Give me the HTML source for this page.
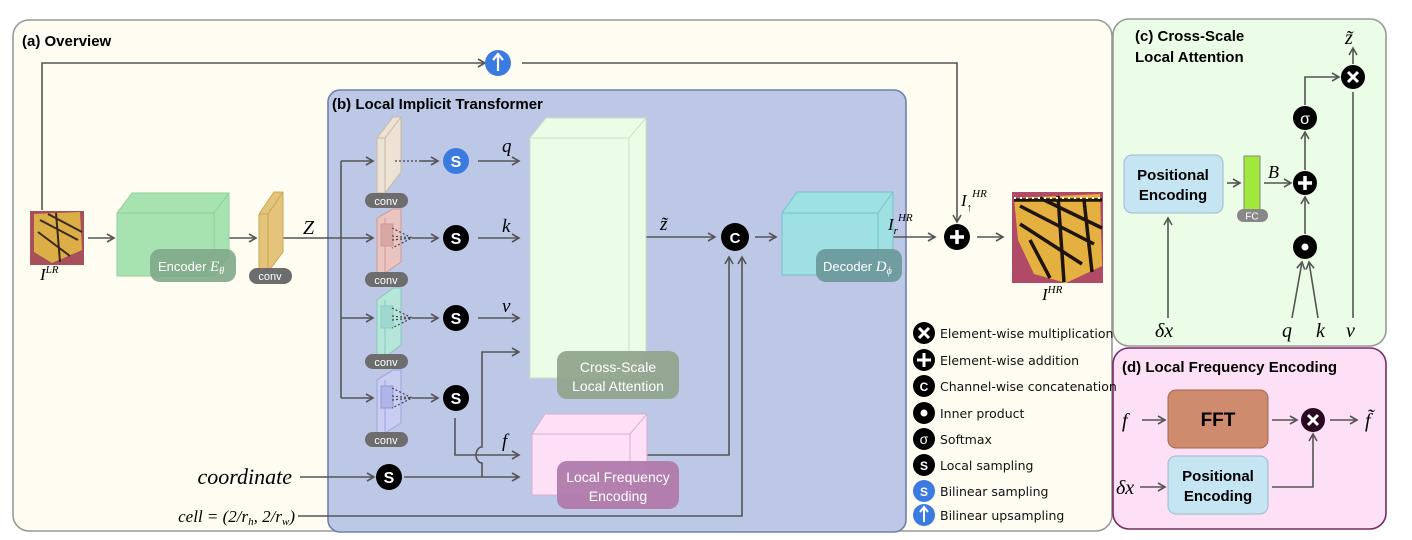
<!DOCTYPE html>
<html><head><meta charset="utf-8"><style>
html,body{margin:0;padding:0;background:#fff;}
svg{display:block;}
.t{font-family:"Liberation Sans",sans-serif;}
.m{font-family:"Liberation Serif",serif;font-style:italic;}
.lg{font-family:"DejaVu Sans",sans-serif;font-size:12.5px;fill:#111;}
</style></head><body>
<svg width="1412" height="540" viewBox="0 0 1412 540" xmlns="http://www.w3.org/2000/svg">
<defs>
<marker id="a" markerWidth="10" markerHeight="10" refX="8" refY="5" orient="auto" markerUnits="userSpaceOnUse"><path d="M1,1 L8,5 L1,9" fill="none" stroke="#555" stroke-width="1.6"/></marker>
</defs>
<g stroke="#555" stroke-width="1.6" fill="none">
<rect x="13" y="20" width="1099" height="511" rx="16" fill="#fffdf1" stroke="#999"/>
<rect x="328" y="90" width="578" height="442" rx="12" fill="#bcc8e6" stroke="#6f80b0"/>
<rect x="1113" y="19" width="273" height="327" rx="16" fill="#ebfde6" stroke="#999"/>
<rect x="1113" y="348" width="273" height="181" rx="16" fill="#fde0f5" stroke="#7a2a60"/>
</g>
<text x="22" y="46" class="t" font-size="15" font-weight="bold">(a) Overview</text>
<text x="332" y="109" class="t" font-size="15" font-weight="bold">(b) Local Implicit Transformer</text>
<text x="1135" y="41" class="t" font-size="15" font-weight="bold">(c) Cross-Scale</text>
<text x="1135" y="62" class="t" font-size="15" font-weight="bold">Local Attention</text>
<text x="1122" y="372" class="t" font-size="15" font-weight="bold">(d) Local Frequency Encoding</text>

<!-- input image -->
<rect x="30" y="211" width="54" height="54" fill="#a8505a"/>
<path d="M34,214 L80,212 L82,250 L52,263 L34,252Z" fill="#dcae48"/>
<g stroke="#3a2a1a" stroke-width="2"><path d="M40,220 L78,240 M38,232 L70,256 M48,214 L82,232 M56,213 L60,262"/></g>
<text x="40" y="280" class="m" font-size="17">I<tspan font-size="11" dy="-7">LR</tspan></text>

<g stroke="#555" stroke-width="1.6" fill="none">
<path d="M42,210 V63 H485" marker-end="url(#a)"/>
<path d="M522,63 H957 V222" marker-end="url(#a)"/>
<path d="M88,238 H114" marker-end="url(#a)"/>
<path d="M220,238 H256" marker-end="url(#a)"/>
<path d="M276,238 H373" marker-end="url(#a)"/>
<path d="M341,161 V398"/>
<path d="M341,161 H373" marker-end="url(#a)"/>
<path d="M341,318 H373" marker-end="url(#a)"/>
<path d="M341,398 H373" marker-end="url(#a)"/>
</g>
<path d="M117,213 L132,193 L229,193 L229,256 L214,276 L117,276Z" fill="#a6e3b0" stroke="#8fcf98"/>
<path d="M117,213 H214 V276 M214,213 L229,193" fill="none" stroke="#8fcf98"/>
<rect x="150" y="249" width="86" height="33" rx="10" fill="#7fa88a" opacity="0.9"/>
<text x="158" y="271" class="t" font-size="13" fill="#fff">Encoder <tspan class="m" font-size="15">E<tspan font-size="10" dy="3">θ</tspan></tspan></text>
<path d="M259,214 L274,192 L283,192 L283,252 L268,272 L259,272Z" fill="#e3c47a" stroke="#c9a650"/>
<path d="M268,214 V272 M259,214 H268 L283,192" fill="none" stroke="#c9a650"/>
<rect x="249" y="268" width="43" height="16" rx="8" fill="#6d6d6d"/>
<text x="270" y="280" class="t" font-size="11" fill="#fff" text-anchor="middle">conv</text>
<text x="303" y="234" class="m" font-size="20">Z</text>

<g stroke-width="1">
<path d="M377,138 L393,117 L401,117 L401,172 L385,193 L377,193Z" fill="#ece3d6" stroke="#c8b8a0"/>
<path d="M377,138 H385 L401,117 M385,138 V193" fill="none" stroke="#c8b8a0"/>
<path d="M377,218 L393,209 L401,209 L401,262 L385,273 L377,273Z" fill="#e9c4c0" stroke="#d09a94"/>
<path d="M385,218 V273" stroke="#d09a94"/>
<rect x="381" y="224" width="12" height="22" fill="#d8a8a4" stroke="#c99"/>
<path d="M377,300 L393,288 L401,288 L401,345 L385,357 L377,357Z" fill="#b6e6da" stroke="#88c8b8"/>
<path d="M385,300 V357" stroke="#88c8b8"/>
<rect x="381" y="306" width="12" height="22" fill="#9fd8cc" stroke="#8cc"/>
<path d="M377,380 L393,370 L401,370 L401,423 L385,433 L377,433Z" fill="#c9cdf2" stroke="#a0a4dc"/>
<path d="M385,380 V433" stroke="#a0a4dc"/>
<rect x="381" y="386" width="12" height="22" fill="#b0b4ea" stroke="#99c"/>
</g>
<g stroke="#444" stroke-width="1.2" stroke-dasharray="2,2" fill="none">
<path d="M395,161 H430"/>
<path d="M392,228 L412,238 L392,248 M392,236 L412,238 M392,240 L412,238"/>
<path d="M392,308 L412,318 L392,328 M392,316 L412,318 M392,320 L412,318"/>
<path d="M392,388 L412,398 L392,408 M392,396 L412,398 M392,400 L412,398"/>
</g>
<g stroke="#555" stroke-width="1.6" fill="none">
<path d="M420,161 H438" marker-end="url(#a)"/>
<path d="M412,238 H438" marker-end="url(#a)"/>
<path d="M412,318 H438" marker-end="url(#a)"/>
<path d="M412,398 H438" marker-end="url(#a)"/>
<path d="M478,161 H519" marker-end="url(#a)"/>
<path d="M478,238 H519" marker-end="url(#a)"/>
<path d="M478,318 H519" marker-end="url(#a)"/>
<path d="M455,418 V455 H519" marker-end="url(#a)"/>
<path d="M300,477 H374" marker-end="url(#a)"/>
<path d="M404,477 H519" marker-end="url(#a)"/>
<path d="M482,477 V463 A6,8 0 0 1 482,447 V352 H519" marker-end="url(#a)"/>
<path d="M298,516 H742 V257" marker-end="url(#a)"/>
<path d="M630,455 H729 V257" marker-end="url(#a)"/>
<path d="M639,237 H715" marker-end="url(#a)"/>
<path d="M755,237 H776" marker-end="url(#a)"/>
<path d="M883,237 H935" marker-end="url(#a)"/>
<path d="M977,237 H1003" marker-end="url(#a)"/>
</g>
<g><rect x="365" y="193" width="43" height="15" rx="7.5" fill="#6d6d6d"/><rect x="365" y="272" width="43" height="15" rx="7.5" fill="#6d6d6d"/><rect x="365" y="354" width="43" height="15" rx="7.5" fill="#6d6d6d"/><rect x="365" y="432" width="43" height="15" rx="7.5" fill="#6d6d6d"/></g>
<g class="t" font-size="11" fill="#fff" text-anchor="middle"><text x="386" y="205">conv</text><text x="386" y="284">conv</text><text x="386" y="366">conv</text><text x="386" y="444">conv</text></g>
<circle cx="456" cy="161" r="13" fill="#3b7be0"/>
<circle cx="456" cy="238" r="13" fill="#000"/>
<circle cx="456" cy="318" r="13" fill="#000"/>
<circle cx="456" cy="398" r="13" fill="#000"/>
<circle cx="389" cy="477" r="13" fill="#000"/>
<g class="t" font-size="16" font-weight="bold" fill="#fff" text-anchor="middle"><text x="456" y="167">S</text><text x="456" y="244">S</text><text x="456" y="324">S</text><text x="456" y="404">S</text><text x="389" y="483">S</text></g>
<g class="m" font-size="19"><text x="502" y="152">q</text><text x="502" y="232">k</text><text x="502" y="312">v</text><text x="502" y="447">f</text><text x="660" y="230">z̃</text><text x="634" y="447">f̃</text></g>
<path d="M530,138 L546,118 L646,118 L646,358 L629,378 L530,378Z" fill="#eafde6" stroke="#c8e4c0"/>
<path d="M530,138 H629 V378 M629,138 L646,118" fill="none" stroke="#c8e4c0"/>
<rect x="557" y="351" width="122" height="48" rx="10" fill="#8fa48c" opacity="0.92"/>
<text x="618" y="372" class="t" font-size="14" fill="#fff" text-anchor="middle">Cross-Scale</text>
<text x="618" y="391" class="t" font-size="14" fill="#fff" text-anchor="middle">Local Attention</text>
<path d="M532,434 L545,414 L647,414 L647,478 L630,495 L532,495Z" fill="#fde0f5" stroke="#d8aed0"/>
<path d="M532,434 H630 V495 M630,434 L647,414" fill="none" stroke="#d8aed0"/>
<rect x="557" y="461" width="122" height="48" rx="10" fill="#b07aab" opacity="0.95"/>
<text x="618" y="482" class="t" font-size="14" fill="#fff" text-anchor="middle">Local Frequency</text>
<text x="618" y="501" class="t" font-size="14" fill="#fff" text-anchor="middle">Encoding</text>
<text x="292" y="484" class="m" font-size="22" text-anchor="end">coordinate</text>
<text x="295" y="522" class="m" font-size="17" text-anchor="end">cell = (2/r<tspan font-size="11" dy="3">h</tspan><tspan dy="-3">, 2/r</tspan><tspan font-size="11" dy="3">w</tspan><tspan dy="-3">)</tspan></text>
<circle cx="735" cy="237" r="14" fill="#000"/>
<text x="735" y="243" class="t" font-size="15" font-weight="bold" fill="#fff" text-anchor="middle">C</text>
<path d="M782,213 L797,192 L893,192 L893,254 L878,275 L782,275Z" fill="#9fe1e3" stroke="#70c4c8"/>
<path d="M782,213 H878 V275 M878,213 L893,192" fill="none" stroke="#70c4c8"/>
<rect x="816" y="249" width="86" height="33" rx="10" fill="#6d9a9c" opacity="0.95"/>
<text x="823" y="271" class="t" font-size="13" fill="#fff">Decoder <tspan class="m" font-size="15">D<tspan font-size="10" dy="3">ϕ</tspan></tspan></text>
<text x="888" y="230" class="m" font-size="17">I<tspan font-size="11" dy="4">r</tspan><tspan font-size="11" dy="-13">HR</tspan></text>
<text x="961" y="206" class="m" font-size="17">I<tspan font-size="11" dy="5">↑</tspan><tspan font-size="11" dy="-14">HR</tspan></text>
<circle cx="957" cy="237" r="13" fill="#000"/>
<path d="M950,237 H964 M957,230 V244" stroke="#fff" stroke-width="3.5"/>
<circle cx="498" cy="63" r="13" fill="#3b7be0"/>
<path d="M498,71 V55 M493,60 L498,54 L503,60" stroke="#fff" stroke-width="2.2" fill="none"/>
<!-- output image -->
<rect x="1012" y="192" width="91" height="91" fill="#b04a66"/>
<path d="M1014,198 L1100,194 L1102,266 L1066,283 L1034,274 L1018,240Z" fill="#e4b040"/>
<g stroke="#1e140c" stroke-width="3.5" fill="none"><path d="M1020,206 L1094,244 M1020,224 L1082,264 M1040,198 L1102,228 M1058,196 L1064,282 M1030,240 L1050,278 M1084,200 L1092,272 M1014,200 H1102"/></g>
<path d="M1014,198 H1100" stroke="#fff" stroke-width="2" stroke-dasharray="2,4"/>
<text x="1042" y="300" class="m" font-size="17">I<tspan font-size="11" dy="-7">HR</tspan></text>

<g>
<circle cx="924" cy="333" r="11" fill="#000"/><path d="M919,328 L929,338 M929,328 L919,338" stroke="#fff" stroke-width="3"/>
<circle cx="924" cy="360" r="11" fill="#000"/><path d="M917,360 H931 M924,353 V367" stroke="#fff" stroke-width="3"/>
<circle cx="924" cy="386" r="11" fill="#000"/><text x="924" y="391" class="t" font-size="12" font-weight="bold" fill="#fff" text-anchor="middle">C</text>
<circle cx="924" cy="413" r="11" fill="#000"/><circle cx="924" cy="413" r="3.5" fill="#fff"/>
<circle cx="924" cy="439" r="11" fill="#000"/><text x="924" y="444" class="t" font-size="14" fill="#fff" text-anchor="middle">σ</text>
<circle cx="924" cy="465" r="11" fill="#000"/><text x="924" y="470" class="t" font-size="12" font-weight="bold" fill="#fff" text-anchor="middle">S</text>
<circle cx="924" cy="491" r="11" fill="#3b7be0"/><text x="924" y="496" class="t" font-size="12" font-weight="bold" fill="#fff" text-anchor="middle">S</text>
<circle cx="924" cy="515" r="11" fill="#3b7be0"/><path d="M924,522 V508 M920,512 L924,507 L928,512" stroke="#fff" stroke-width="2" fill="none"/>
</g>
<g class="lg">
<text x="940" y="338">Element-wise multiplication</text>
<text x="940" y="365">Element-wise addition</text>
<text x="940" y="391">Channel-wise concatenation</text>
<text x="940" y="418">Inner product</text>
<text x="940" y="444">Softmax</text>
<text x="940" y="470">Local sampling</text>
<text x="940" y="496">Bilinear sampling</text>
<text x="940" y="520">Bilinear upsampling</text>
</g>

<rect x="1124" y="155" width="99" height="58" rx="8" fill="#c5e5f3" stroke="#9bbccc"/>
<text x="1173" y="180" class="t" font-size="15" font-weight="bold" text-anchor="middle">Positional</text>
<text x="1173" y="200" class="t" font-size="15" font-weight="bold" text-anchor="middle">Encoding</text>
<rect x="1244" y="156" width="16" height="54" fill="#a0e83a" stroke="#888"/>
<rect x="1237" y="209" width="31" height="13" rx="6.5" fill="#888"/>
<text x="1252" y="219.5" class="t" font-size="10" fill="#fff" text-anchor="middle">FC</text>
<g stroke="#555" stroke-width="1.6" fill="none">
<path d="M1227,183 H1240" marker-end="url(#a)"/>
<path d="M1264,183 H1291" marker-end="url(#a)"/>
<path d="M1168,318 V218" marker-end="url(#a)"/>
<path d="M1292,318 L1302,262" marker-end="url(#a)"/>
<path d="M1318,318 L1309,262" marker-end="url(#a)"/>
<path d="M1305,234 V197" marker-end="url(#a)"/>
<path d="M1305,170 V132" marker-end="url(#a)"/>
<path d="M1305,105 V77 H1339" marker-end="url(#a)"/>
<path d="M1353,318 V92"/>
<path d="M1353,64 V48" marker-end="url(#a)"/>
</g>
<circle cx="1353" cy="77" r="12" fill="#000"/><path d="M1348,72 L1358,82 M1358,72 L1348,82" stroke="#fff" stroke-width="3"/>
<circle cx="1305" cy="118" r="12" fill="#000"/><text x="1305" y="124" class="t" font-size="16" fill="#fff" text-anchor="middle">σ</text>
<circle cx="1305" cy="183" r="12" fill="#000"/><path d="M1298,183 H1312 M1305,176 V190" stroke="#fff" stroke-width="3.5"/>
<circle cx="1305" cy="247" r="12" fill="#000"/><circle cx="1305" cy="247" r="3.5" fill="#fff"/>
<g class="m" font-size="20"><text x="1345" y="44">z̃</text><text x="1268" y="178" font-size="18">B</text><text x="1155" y="337">δx</text><text x="1282" y="337">q</text><text x="1316" y="337">k</text><text x="1346" y="337">v</text></g>

<rect x="1168" y="390" width="100" height="58" rx="8" fill="#cf8b6e" stroke="#a06a50"/>
<text x="1218" y="426" class="t" font-size="19" font-weight="bold" text-anchor="middle">FFT</text>
<rect x="1168" y="456" width="100" height="58" rx="8" fill="#c5e5f3" stroke="#9bbccc"/>
<text x="1218" y="481" class="t" font-size="15" font-weight="bold" text-anchor="middle">Positional</text>
<text x="1218" y="501" class="t" font-size="15" font-weight="bold" text-anchor="middle">Encoding</text>
<g stroke="#555" stroke-width="1.6" fill="none">
<path d="M1142,420 H1165" marker-end="url(#a)"/>
<path d="M1272,420 H1297" marker-end="url(#a)"/>
<path d="M1330,420 H1357" marker-end="url(#a)"/>
<path d="M1140,487 H1165" marker-end="url(#a)"/>
<path d="M1272,487 H1313 V434" marker-end="url(#a)"/>
</g>
<circle cx="1313" cy="420" r="12" fill="#2a0a20"/><path d="M1308,415 L1318,425 M1318,415 L1308,425" stroke="#fff" stroke-width="3"/>
<g class="m" font-size="20"><text x="1122" y="427">f</text><text x="1365" y="427">f̃</text><text x="1116" y="494">δx</text></g>
</svg>
</body></html>
